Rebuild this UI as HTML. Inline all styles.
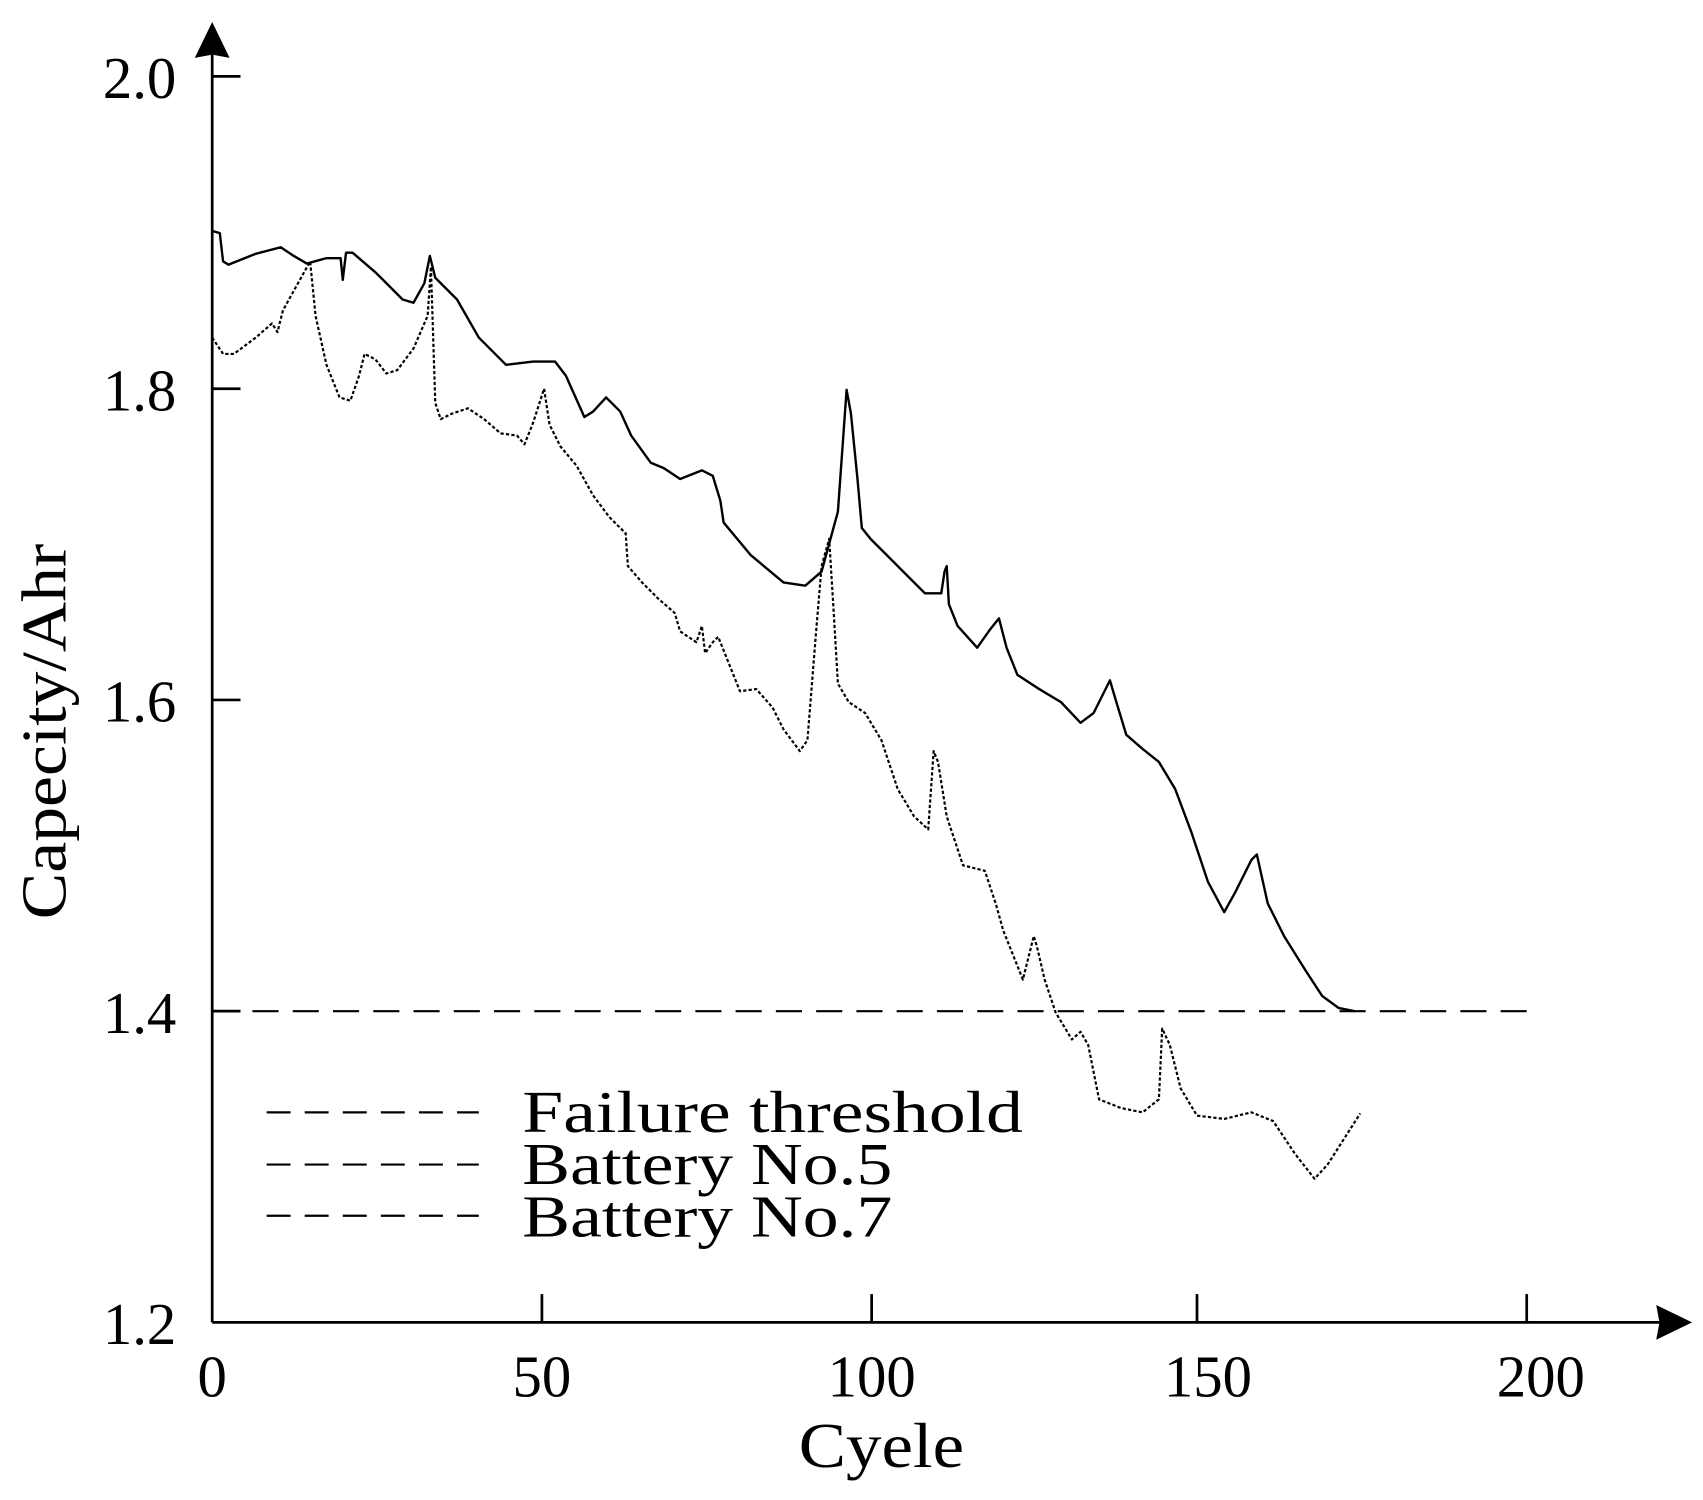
<!DOCTYPE html>
<html><head><style>html,body{margin:0;padding:0;background:#fff}svg{display:block}</style></head>
<body>
<svg width="1703" height="1500" viewBox="0 0 1565 1378" xmlns="http://www.w3.org/2000/svg" font-family="'Liberation Serif', serif">
<g stroke="#000" stroke-width="2.5" fill="none">
<line x1="195" y1="1215" x2="195" y2="40"/>
<line x1="195" y1="1215" x2="1530" y2="1215"/>
<line x1="195" y1="70" x2="221" y2="70"/>
<line x1="195" y1="357" x2="221" y2="357"/>
<line x1="195" y1="643" x2="221" y2="643"/>
<line x1="195" y1="929" x2="221" y2="929"/>
<line x1="498" y1="1215" x2="498" y2="1189"/>
<line x1="801" y1="1215" x2="801" y2="1189"/>
<line x1="1100" y1="1215" x2="1100" y2="1189"/>
<line x1="1403" y1="1215" x2="1403" y2="1189"/>
</g>
<polygon points="195,20 179,53 195,50 211,53" fill="#000"/>
<polygon points="1555,1215 1522,1199 1525,1215 1522,1231" fill="#000"/>
<g font-size="54" text-anchor="end">
<text x="162" y="90">2.0</text><text x="162" y="377">1.8</text><text x="162" y="663">1.6</text><text x="162" y="949">1.4</text><text x="162" y="1235">1.2</text>
</g>
<g font-size="54" text-anchor="middle">
<text x="195" y="1283">0</text><text x="498" y="1283">50</text><text x="801" y="1283">100</text><text x="1110" y="1283">150</text><text x="1416" y="1283">200</text>
<text x="810" y="1348" font-size="58" textLength="152" lengthAdjust="spacingAndGlyphs">Cyele</text>
<text transform="translate(60,672) rotate(-90)" font-size="58" textLength="345" lengthAdjust="spacingAndGlyphs">Capecity/Ahr</text>
</g>
<line x1="195" y1="929" x2="1405" y2="929" stroke="#000" stroke-width="2" stroke-dasharray="24,13"/>
<polyline fill="none" stroke="#000" stroke-width="2.2" stroke-linejoin="round" points="195,212 202,214 205,240 210,243 235,233 258,227 270,235 282,242 300,237 313,237 315,257 318,232 324,232 345,250 370,275 380,278 390,260 395,235 400,255 420,275 440,310 465,335 490,332 510,332 520,345 537,383 545,378 557,365 570,378 580,400 598,425 610,430 625,440 645,432 655,437 662,460 665,480 690,510 720,535 740,538 755,525 770,470 778,358 782,380 788,440 792,485 800,495 830,525 850,545 865,545 868,525 870,520 872,555 880,575 898,595 910,578 918,568 925,595 935,620 955,633 975,645 993,664 1005,655 1020,625 1025,642 1035,675 1050,688 1065,700 1080,725 1095,765 1110,810 1125,838 1135,820 1150,790 1155,785 1165,830 1180,860 1200,892 1215,915 1230,926 1245,929"/>
<polyline fill="none" stroke="#000" stroke-width="2" stroke-dasharray="3,2" stroke-linejoin="round" points="195,310 205,325 215,325 235,310 250,297 255,305 260,285 275,258 285,240 290,290 300,335 312,365 322,368 330,345 335,325 345,330 355,343 365,340 380,320 393,290 396,245 400,370 405,385 415,380 430,375 445,385 460,398 475,400 482,408 490,388 500,357 505,390 515,410 530,428 545,455 560,475 575,490 577,520 590,535 605,550 620,563 625,580 640,590 645,575 648,600 655,590 660,585 670,610 680,635 695,633 710,650 720,670 735,690 742,680 750,580 755,520 762,495 766,560 770,628 780,645 795,655 810,680 825,725 840,750 853,762 858,690 862,700 870,750 885,795 905,800 915,830 922,855 930,875 940,900 950,860 953,870 960,900 970,930 985,955 993,948 1000,960 1005,985 1010,1010 1030,1018 1050,1022 1065,1010 1068,945 1075,960 1085,1000 1100,1025 1125,1028 1150,1022 1170,1030 1190,1060 1208,1083 1220,1070 1250,1023"/>
<g stroke="#000" stroke-width="2" stroke-dasharray="22,13">
<line x1="245" y1="1022" x2="440" y2="1022"/>
<line x1="245" y1="1070" x2="440" y2="1070"/>
<line x1="245" y1="1117" x2="440" y2="1117"/>
</g>
<g font-size="54">
<text x="480" y="1040" textLength="460" lengthAdjust="spacingAndGlyphs">Failure threshold</text>
<text x="480" y="1088" textLength="340" lengthAdjust="spacingAndGlyphs">Battery No.5</text>
<text x="480" y="1136" textLength="340" lengthAdjust="spacingAndGlyphs">Battery No.7</text>
</g>
</svg>
</body></html>
